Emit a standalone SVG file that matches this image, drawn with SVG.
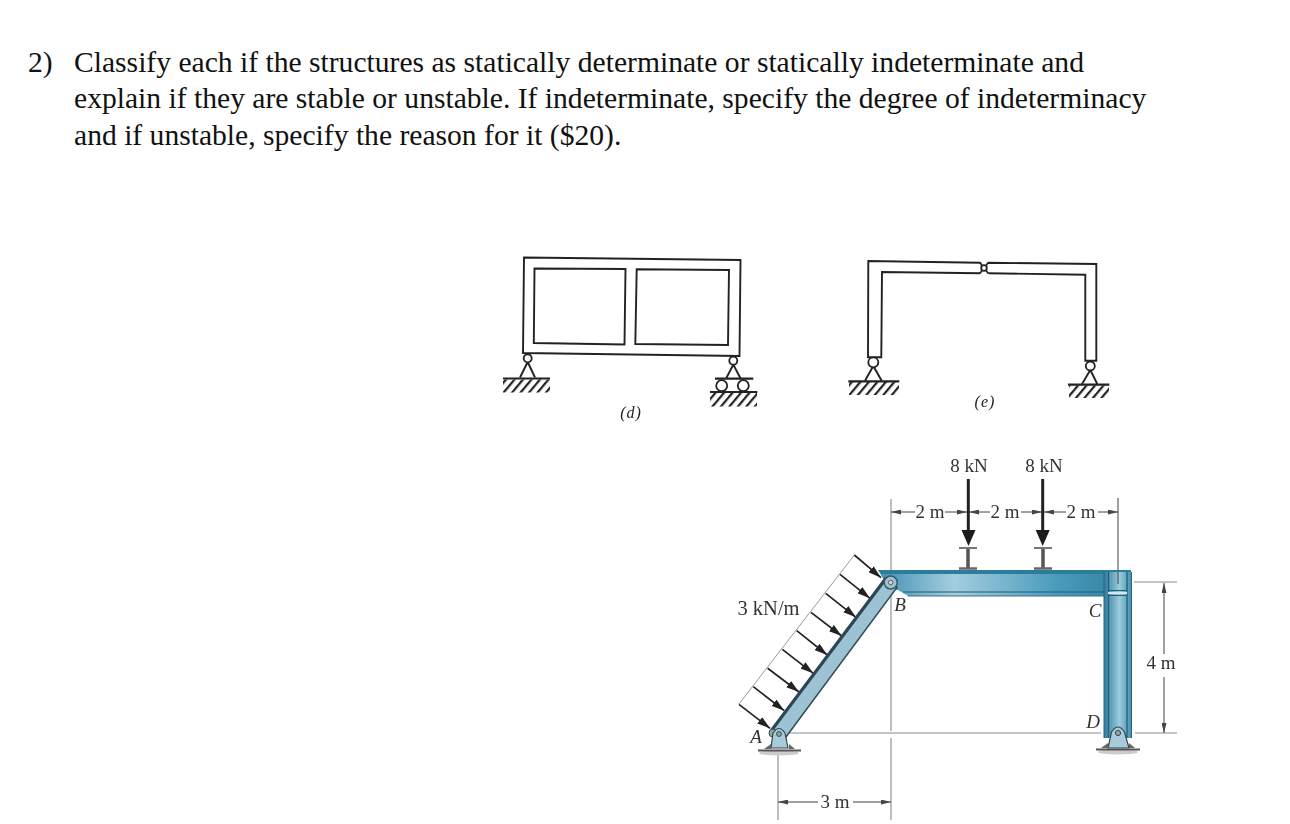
<svg xmlns="http://www.w3.org/2000/svg" width="1290" height="824" viewBox="0 0 1290 824">
<style>
.h{font-family:"Liberation Serif",serif;font-size:29.6px;fill:#111}
.t{font-family:"Liberation Serif",serif;font-size:19px;fill:#333}
.i{font-style:italic}
.s{font-family:"Liberation Serif",serif;font-size:16px;fill:#222;font-style:italic}
.k{fill:none;stroke:#222;stroke-width:1.9}
.kw{fill:#fff;stroke:#222;stroke-width:1.8}
.d{stroke:#8a8a8a;stroke-width:1.1;fill:none}
.b{stroke:#444;stroke-width:1;fill:none}
.l{stroke:#222;stroke-width:1.7;fill:none;marker-end:url(#ah)}
.f{stroke:#222;stroke-width:2.2;fill:none}
</style>
<defs>
<filter id="soft" x="-5%" y="-5%" width="110%" height="110%"><feGaussianBlur stdDeviation="0.6"/></filter>
<marker id="ah" markerWidth="14" markerHeight="8" refX="13" refY="4" orient="auto" markerUnits="userSpaceOnUse"><path d="M0 0L13 4L0 8z" fill="#222"/></marker>
<marker id="da" markerWidth="10" markerHeight="5" refX="10" refY="2.5" orient="auto" markerUnits="userSpaceOnUse"><path d="M0 0L10 2.5L0 5z" fill="#444"/></marker>
<linearGradient id="hb" x1="0" y1="0" x2="1" y2="0"><stop offset="0" stop-color="#3f8fb0"/><stop offset=".3" stop-color="#a3cede"/><stop offset=".7" stop-color="#4b9cbc"/><stop offset="1" stop-color="#2f7f9f"/></linearGradient>
<linearGradient id="vb" x1="0" y1="0" x2="1" y2="0"><stop offset="0" stop-color="#2f7b9b"/><stop offset=".55" stop-color="#9ccbdc"/><stop offset="1" stop-color="#3c8cab"/></linearGradient>
<pattern id="hat" width="6.5" height="6.5" patternUnits="userSpaceOnUse" patternTransform="rotate(40)"><rect width="2.2" height="6.5" fill="#222"/></pattern>
</defs>
<rect width="1290" height="824" fill="#fff"/>

<g id="question">
<text class="h" x="28" y="72">2)</text>
<text class="h" x="74" y="72">Classify each if the structures as statically determinate or statically indeterminate and</text>
<text class="h" x="74" y="108">explain if they are stable or unstable. If indeterminate, specify the degree of indeterminacy</text>
<text class="h" x="74" y="145">and if unstable, specify the reason for it ($20).</text>
</g>

<g id="frame-d" filter="url(#soft)">
<path class="k" d="M524 257.5L740.5 260L739.5 356L523 353Z"/>
<path class="k" d="M534.500 268.500L625.500 269L624.500 344.500L533.800 343Z"/>
<path class="k" d="M636.700 269.300L729 270L728 345L635.300 344Z"/>
<path class="k" d="M520 377.500L527.700 362M535 377.500L527.700 362"/>
<circle class="kw" cx="527.700" cy="358.300" r="4"/>
<path class="f" d="M503 378.500H550"/>
<rect x="503" y="379.500" width="47" height="13" fill="url(#hat)"/>
<path class="k" d="M726 378.700L733.300 364.500L740.700 378.700"/>
<circle class="kw" cx="733.300" cy="360.700" r="4"/>
<path class="f" d="M715 378.700H753.300"/>
<circle class="kw" cx="721.700" cy="385.700" r="5.500"/>
<circle class="kw" cx="743.300" cy="385.700" r="5.500"/>
<path class="f" d="M710 392H757.300"/>
<rect x="710" y="393" width="47" height="13.500" fill="url(#hat)"/>
<text class="s" x="631" y="418" text-anchor="middle" letter-spacing="1">(d)</text>
</g>

<g id="frame-e" filter="url(#soft)">
<path class="k" d="M980 273.300L882 272L881.300 357.300H868L868.300 261L980 262.700Q982 265 981.500 266"/>
<path class="k" d="M988.300 273.300L1085.300 274.700V360.700H1096.300V264L988.300 262.700Q986 265 986.500 266"/>
<path class="k" d="M980 273.300Q982 271 981.500 270M988.300 273.300Q986 271 986.500 270"/>
<circle class="kw" cx="984" cy="268" r="2.800"/>
<path class="k" d="M865 380.700L873.300 366L881.700 380.700"/>
<circle class="kw" cx="873.300" cy="362.300" r="5"/>
<path class="f" d="M848.300 381.300H899.300"/>
<rect x="849" y="382" width="50" height="13" fill="url(#hat)"/>
<path class="k" d="M1082 384L1090.300 370L1097.300 384"/>
<circle class="kw" cx="1090.300" cy="366" r="4.500"/>
<path class="f" d="M1068 384.700H1109.300"/>
<rect x="1069" y="385.500" width="40" height="12.500" fill="url(#hat)"/>
<text class="s" x="985" y="407" text-anchor="middle" letter-spacing="1">(e)</text>
</g>

<g id="connectors" filter="url(#soft)">
<path class="d" d="M891 499V570M891 596V731M891 738V820M778 752V820M790 733H1101M1135 733H1177M1134 582H1177"/>
<path class="b" d="M1118 498V584"/>
<path class="b" marker-end="url(#da)" d="M915 512H891"/>
<path class="b" marker-end="url(#da)" d="M945 512H967"/>
<path class="b" marker-end="url(#da)" d="M990 512H969"/>
<path class="b" marker-end="url(#da)" d="M1021 512H1042"/>
<path class="b" marker-end="url(#da)" d="M1066 512H1044"/>
<path class="b" marker-end="url(#da)" d="M1098 512H1118"/>
<path class="b" marker-end="url(#da)" d="M818 802H778"/>
<path class="b" marker-end="url(#da)" d="M853 802H891"/>
<path class="b" marker-end="url(#da)" d="M1164 654V583"/>
<path class="b" marker-end="url(#da)" d="M1164 677V733"/>
<path d="M968.300 479V531" stroke="#222" stroke-width="3"/>
<path d="M961.500 530H975.500L968.500 546Z" fill="#1a1a1a"/>
<path d="M1042.700 479V531" stroke="#222" stroke-width="3"/>
<path d="M1035.700 530H1049.700L1042.700 546Z" fill="#1a1a1a"/>
<path d="M739 704L854.300 555" stroke="#999" stroke-width="1" fill="none"/>
<g id="distributed-load">
<path class="l" d="M854.300 555L881 577.700"/>
<path class="l" d="M840 574.300L870 598.300"/>
<path class="l" d="M825.700 593.300L856 617.300"/>
<path class="l" d="M811 612.300L841.700 636"/>
<path class="l" d="M796.700 630.700L827.300 655"/>
<path class="l" d="M782.300 649.300L813.300 673.300"/>
<path class="l" d="M767.700 668.300L799 692"/>
<path class="l" d="M753.300 686.700L784.300 710.700"/>
<path class="l" d="M739 704.300L770 728.300"/>
</g>
</g>

<g id="member-bc" filter="url(#soft)">
<path d="M878 570H1131V596H908L898 590H890Z" fill="url(#hb)"/>
<path d="M878 570H1131V574H882Z" fill="#2f7b9b"/>
<path d="M903 592H1105" stroke="#1f5f7c" stroke-width="1.200"/>
<path d="M908 596H1105" stroke="#3a6f85" stroke-width="1"/>
<path d="M968 548V568M1043 548V568" stroke="#555" stroke-width="3.500"/>
<path d="M959 548H977M1034 548H1052" stroke="#777" stroke-width="2"/>
<path d="M959 568.500H977M1034 568.500H1052" stroke="#666" stroke-width="2.500"/>
</g>

<g id="member-cd" filter="url(#soft)">
<rect x="1104" y="572" width="28" height="166" fill="url(#vb)"/>
<path d="M1108.500 572V738M1127 572V738" stroke="#1f5f7c" stroke-width="1.300"/>
<path d="M1104 572V738M1131.500 572V738" stroke="#2a6480" stroke-width="1"/>
<path d="M1108 593H1127" stroke="#d5e8ef" stroke-width="2"/>
<path d="M1108 590.500H1127M1108 595.500H1127" stroke="#245f7a" stroke-width="1"/>
<path d="M1118 572V584" stroke="#444" stroke-width="1"/>
</g>

<g id="support-d" filter="url(#soft)">
<ellipse cx="1118" cy="752" rx="20" ry="2.500" fill="#ccc"/>
<path d="M1108 748L1111.500 732Q1118 722 1124.500 732L1129 748Z" fill="#a8cbd9" stroke="#33464f" stroke-width="1.200"/>
<circle cx="1118" cy="733" r="2.600" fill="#8aa" stroke="#444"/>
<path d="M1096 749.500H1140" stroke="#555" stroke-width="2"/>
<path d="M1101 748L1108 743V748ZM1135 748L1129 743V748Z" fill="#666"/>
</g>

<g id="member-ab" filter="url(#soft)">
<path d="M771.500 729L885 578L897 587.500L786 737Z" fill="#9cc2d4" stroke="#2e4a58" stroke-width="1.500"/>
<path d="M773 729L886 579" stroke="#2c4653" stroke-width="2.400"/>
<circle cx="890.700" cy="582.500" r="6.500" fill="#9cc2d4" stroke="#3a5a68" stroke-width="1.500"/>
<circle cx="890.700" cy="582.500" r="2.200" fill="#ddd" stroke="#555"/>
</g>

<g id="support-a" filter="url(#soft)">
<ellipse cx="779" cy="753" rx="20" ry="2.500" fill="#ccc"/>
<circle cx="773" cy="733" r="4" fill="#8aa" stroke="#444"/>
<path d="M771 748L773 733Q779 724 785 733L788 748Z" fill="#a8cbd9" stroke="#33464f" stroke-width="1.200"/>
<circle cx="779" cy="734" r="2.400" fill="#8aa" stroke="#444"/>
<path d="M758 750.500H801" stroke="#555" stroke-width="2"/>
<path d="M764 749L771 744V749ZM795 749L789 744V749Z" fill="#666"/>
</g>

<g id="labels" filter="url(#soft)">
<text class="t" x="969" y="472" text-anchor="middle">8 kN</text>
<text class="t" x="1044" y="472" text-anchor="middle">8 kN</text>
<text class="t" x="930" y="518" text-anchor="middle">2 m</text>
<text class="t" x="1005" y="518" text-anchor="middle">2 m</text>
<text class="t" x="1081" y="518" text-anchor="middle">2 m</text>
<text class="t" x="768.500" y="615" text-anchor="middle" style="font-size:20.500px">3 kN/m</text>
<text class="t" x="835" y="808" text-anchor="middle">3 m</text>
<text class="t" x="1161" y="669" text-anchor="middle">4 m</text>
<text class="t i" x="900" y="611" text-anchor="middle">B</text>
<text class="t i" x="1095" y="617" text-anchor="middle">C</text>
<text class="t i" x="1093" y="728" text-anchor="middle">D</text>
<text class="t i" x="756" y="743" text-anchor="middle">A</text>
</g>
</svg>
